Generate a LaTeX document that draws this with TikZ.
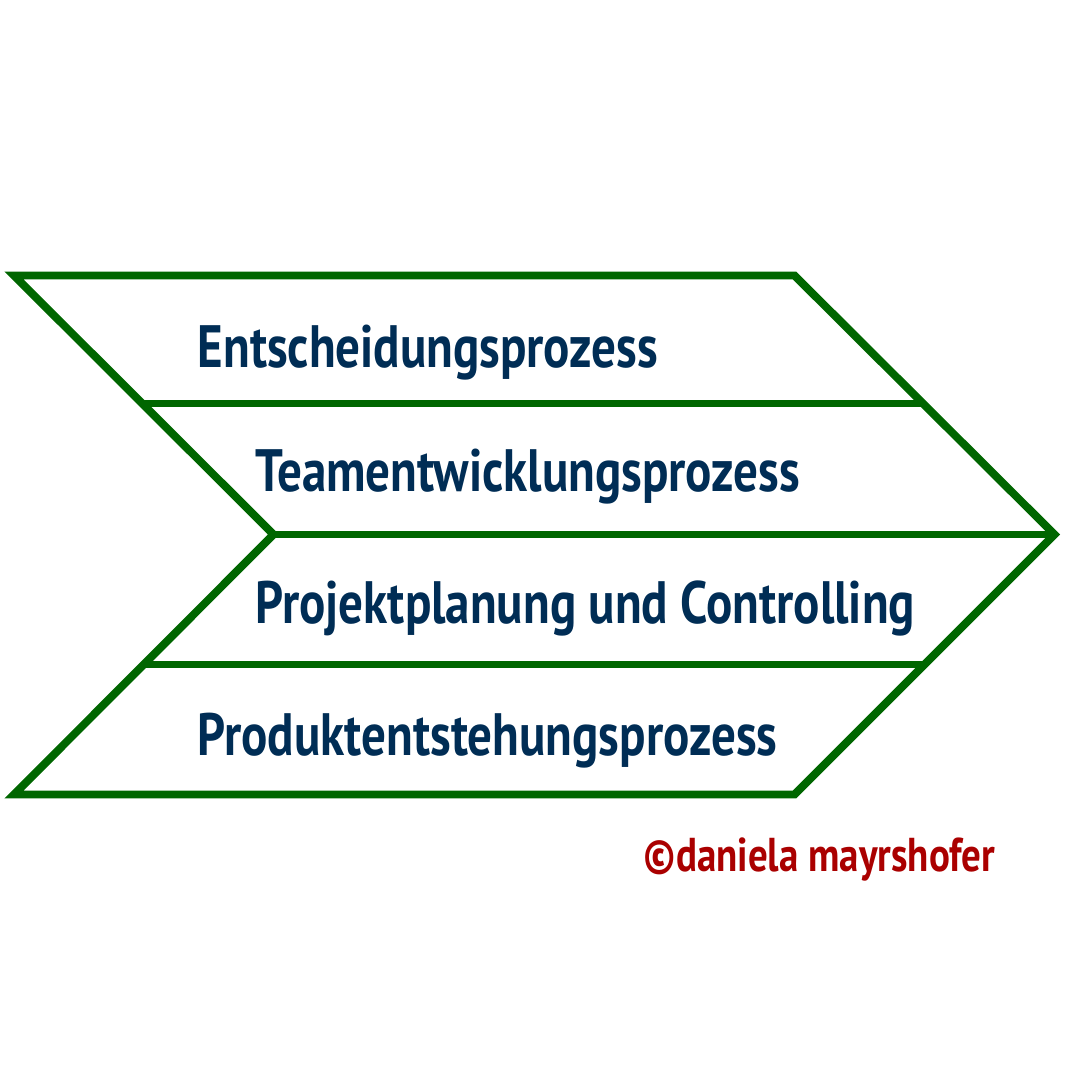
\documentclass[tikz,border=0pt]{standalone}
\usepackage{fontspec}
\newfontfamily\handfont{PT Sans}[FakeStretch=0.82]
\definecolor{bandgreen}{HTML}{006600}
\definecolor{textnavy}{HTML}{002D55}
\definecolor{signred}{HTML}{AA0000}
\tikzset{
  band/.style={draw=bandgreen, line width=2.25pt, line join=miter},
  step label/.style={anchor=base west, inner sep=0pt, text=textnavy,
    font=\handfont\bfseries\fontsize{17}{20}\selectfont},
  sign label/.style={anchor=base west, inner sep=0pt, text=signred,
    font=\handfont\bfseries\fontsize{13.5}{16}\selectfont}
}
\begin{document}
\begin{tikzpicture}[x=0.01cm, y=0.01cm]
	\useasboundingbox (0,0) rectangle (1069,1069);

	\coordinate (topleft) at (14, 793.5);
	\coordinate (topright) at (794.5, 793.5);
	\coordinate (tip) at (1054.5, 534.5);
	\coordinate (bottomright) at (794.5, 274.5);
	\coordinate (bottomleft) at (14, 274.5);
	\coordinate (notch) at (273.5, 534.5);
	\coordinate (upperleft) at (142.2, 665.5);
	\coordinate (upperright) at (922.5, 665.5);
	\coordinate (lowerleft) at (143.5, 404.5);
	\coordinate (lowerright) at (924.5, 404.5);

	\draw[band] (topleft) -- (topright) -- (tip) -- (bottomright) -- (bottomleft) -- (notch) -- cycle;
	\draw[band] (upperleft) -- (upperright);
	\draw[band] (notch) -- (tip);
	\draw[band] (lowerleft) -- (lowerright);

	\node[step label] (decision) at (197, 701) {Entscheidungsprozess};
	\node[step label] (team) at (255, 577) {Teamentwicklungsprozess};
	\node[step label] (planning) at (255, 445) {Projektplanung und Controlling};
	\node[step label] (product) at (197, 313) {Produktentstehungsprozess};

	\node[sign label] (sign) at (643, 197) {©daniela mayrshofer};
\end{tikzpicture}
\end{document}
